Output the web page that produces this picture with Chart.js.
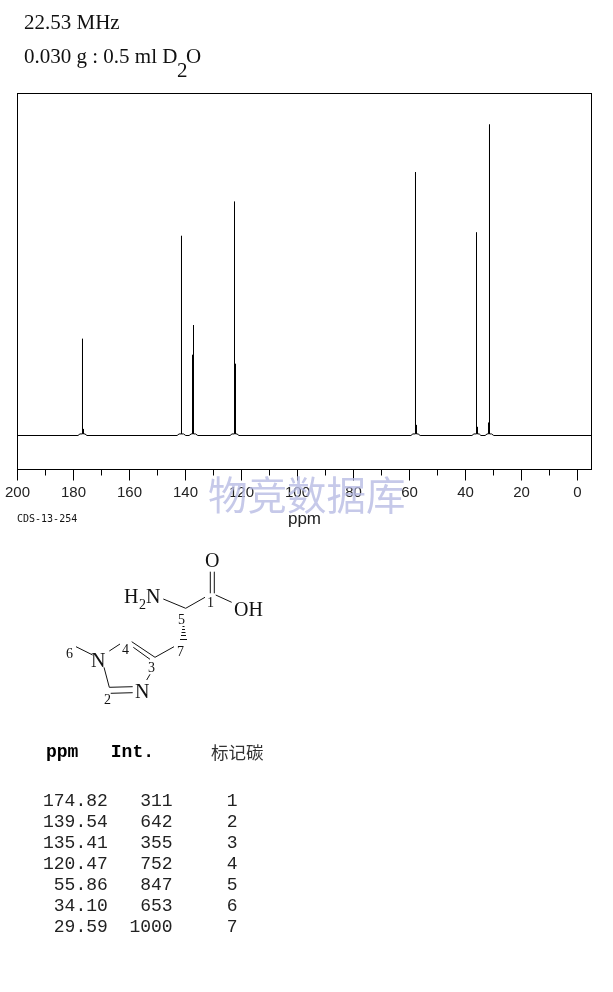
<!DOCTYPE html>
<html>
<head>
<meta charset="utf-8">
<script src="https://cdn.jsdelivr.net/npm/chart.js@4"></script>
<style>
body { margin: 0; background: #fff; width: 613px; height: 992px; position: relative; overflow: hidden; }
canvas { position: absolute; left: 0; top: 0; }
.t { position: absolute; white-space: pre; line-height: 1; }
.serif { font-family: "Liberation Serif", serif; font-size: 21px; color: #111; }
.mono { font-family: "Liberation Mono", monospace; font-size: 18px; color: #222; }
svg { position: absolute; left: 0; top: 0; }
svg text { font-family: "Liberation Serif", serif; fill: #111; }
</style>
</head>
<body>
<canvas id="myChart" width="613" height="540"></canvas>

<div class="t serif" style="left:24px;top:12px">22.53 MHz</div>
<div class="t serif" style="left:24px;top:46px">0.030 g : 0.5 ml D</div>
<div class="t serif" style="left:177px;top:60px">2</div>
<div class="t serif" style="left:186px;top:46px">O</div>

<div class="t" style="left:17px;top:513px;font:10px 'DejaVu Sans Mono',monospace;color:#111">CDS-13-254</div>
<div class="t" style="left:208px;top:464px;font:39.5px 'Noto Sans CJK SC',sans-serif;color:#b8bce4;opacity:.8">物竞数据库</div>

<svg width="613" height="992" stroke="#111" stroke-width="1" fill="none">
  <line x1="210.3" y1="571.7" x2="210.3" y2="593.3"/>
  <line x1="214.3" y1="571.7" x2="214.3" y2="593.3"/>
  <line x1="215.7" y1="595" x2="231.7" y2="602.3"/>
  <line x1="205" y1="597.3" x2="185.7" y2="608.3"/>
  <line x1="185.7" y1="608.3" x2="163.3" y2="599"/>
  <line x1="182.5" y1="626.5" x2="184.5" y2="626.5"/>
  <line x1="182" y1="629.5" x2="185" y2="629.5"/>
  <line x1="181.5" y1="632.5" x2="185.5" y2="632.5"/>
  <line x1="181" y1="635.5" x2="186" y2="635.5"/>
  <line x1="180" y1="639.5" x2="187" y2="639.5"/>
  <line x1="174" y1="646.7" x2="155" y2="657.3"/>
  <line x1="155" y1="657.3" x2="131.7" y2="641.7"/>
  <line x1="150" y1="659.3" x2="133.3" y2="647.3"/>
  <line x1="120" y1="644" x2="109.3" y2="651"/>
  <line x1="76" y1="646.7" x2="92.7" y2="655"/>
  <line x1="104" y1="667.3" x2="109.3" y2="687.3"/>
  <line x1="109.3" y1="687.3" x2="132.7" y2="686.7"/>
  <line x1="110.7" y1="693.3" x2="132.7" y2="692.7"/>
  <line x1="146.7" y1="680" x2="150" y2="674.3"/>
  <g stroke="none" font-size="20">
    <text x="205" y="567">O</text>
    <text x="234" y="616">OH</text>
    <text x="124" y="603">H</text>
    <text x="146" y="603">N</text>
    <text x="91" y="667">N</text>
    <text x="135" y="698">N</text>
  </g>
  <g stroke="none" font-size="14">
    <text x="139" y="609">2</text>
    <text x="207" y="607">1</text>
    <text x="178" y="624">5</text>
    <text x="177" y="656">7</text>
    <text x="148" y="672">3</text>
    <text x="122" y="654">4</text>
    <text x="66" y="658">6</text>
    <text x="104" y="704">2</text>
  </g>
</svg>

<div class="t mono" style="left:46px;top:743px;font-weight:bold;color:#000" id="head"></div>
<div class="t" style="left:211px;top:739px;font:17.5px 'Noto Sans CJK SC',sans-serif;color:#333">标记碳</div>
<div id="table"></div>

<script>
// 軸の目盛り
const majorTicks = [200, 180, 160, 140, 120, 100, 80, 60, 40, 20, 0];
const minorTicks = [190, 170, 150, 130, 110, 90, 70, 50, 30, 10];

// スペクトル
const traceX = [200,
    178.4, 177.7, 176.79, 176.79, 176.79, 176.43, 176.43, 175.9, 175.2,
    143.0, 142.3, 141.43, 141.43, 141.43, 140.7, 139.9,
    138.7, 138.0, 137.5, 137.5, 137.14, 137.14, 137.14, 136.4, 135.6,
    124.1, 123.4, 122.5, 122.5, 122.5, 122.14, 122.14, 121.6, 120.9,
    59.5, 58.8, 57.86, 57.86, 57.86, 57.5, 57.5, 56.9, 56.2,
    37.7, 37.0, 36.07, 36.07, 36.07, 35.71, 35.71, 35.1, 34.5,
    33.0, 32.3, 31.79, 31.79, 31.43, 31.43, 31.43, 30.7, 29.9, -5];
const traceY = [0,
    0, 5, 5, 311, 20, 20, 5, 5, 0,
    0, 5, 5, 642, 5, 5, 0,
    0, 5, 5, 259, 259, 355, 5, 5, 0,
    0, 5, 5, 752, 230, 230, 5, 5, 0,
    0, 5, 5, 847, 33, 33, 5, 5, 0,
    0, 5, 5, 653, 27, 27, 5, 5, 0,
    0, 5, 5, 41, 41, 1000, 5, 5, 0, 0];

// ピークリスト
const tablePpm = ['174.82', '139.54', '135.41', '120.47', '55.86', '34.10', '29.59'];
const tableInt = [311, 642, 355, 752, 847, 653, 1000];
const tableCarbon = [1, 2, 3, 4, 5, 6, 7];

document.getElementById('head').textContent = 'ppm   Int.';
var table = document.getElementById('table');
tablePpm.forEach(function (p, i) {
    var row = document.createElement('div');
    row.className = 't mono';
    row.style.left = '43px';
    row.style.top = (792 + i * 21) + 'px';
    row.textContent = p.padStart(6) + String(tableInt[i]).padStart(6) + String(tableCarbon[i]).padStart(6);
    table.appendChild(row);
});

// 枠と短い目盛り
const framePlugin = {
    id: 'frame',
    afterDraw(chart) {
        const a = chart.chartArea;
        const c = chart.ctx;
        c.save();
        c.strokeStyle = '#000';
        c.lineWidth = 1;
        c.strokeRect(a.left, a.top, a.right - a.left, a.bottom - a.top);
        c.beginPath();
        minorTicks.forEach(function (v) {
            var px = chart.scales.x.getPixelForValue(v);
            c.moveTo(px, a.bottom);
            c.lineTo(px, a.bottom + 6);
        });
        c.stroke();
        c.restore();
    }
};

var ctx = document.getElementById('myChart');
var myChart = new Chart(ctx, {
    type: 'line',
    data: {
        datasets: [{
            data: traceX.map((x, i) => ({ x: x, y: traceY[i] })),
            borderColor: '#000',
            borderWidth: 1,
            pointRadius: 0,
            tension: 0
        }]
    },
    options: {
        responsive: false,
        animation: false,
        layout: { padding: { left: 17.5, right: 21.5, top: 93.5, bottom: 0 } },
        scales: {
            x: {
                type: 'linear',
                reverse: true,
                min: -5,
                max: 200,
                afterBuildTicks: (s) => { s.ticks = majorTicks.map(v => ({ value: v })); },
                afterFit: (s) => { s.height = 70.5; },
                grid: { drawOnChartArea: false, tickLength: 11, color: '#000' },
                border: { display: false },
                ticks: {
                    autoSkip: false,
                    maxRotation: 0,
                    padding: 3,
                    color: '#222',
                    font: { family: 'Liberation Sans', size: 15 }
                },
                title: {
                    display: true,
                    text: 'ppm',
                    color: '#222',
                    font: { family: 'Liberation Sans', size: 17 },
                    padding: { top: 0, bottom: 10 }
                }
            },
            y: {
                display: false,
                min: -109.3,
                max: 1099.7
            }
        },
        plugins: {
            legend: { display: false },
            tooltip: { enabled: false }
        }
    },
    plugins: [framePlugin]
});
</script>
</body>
</html>
